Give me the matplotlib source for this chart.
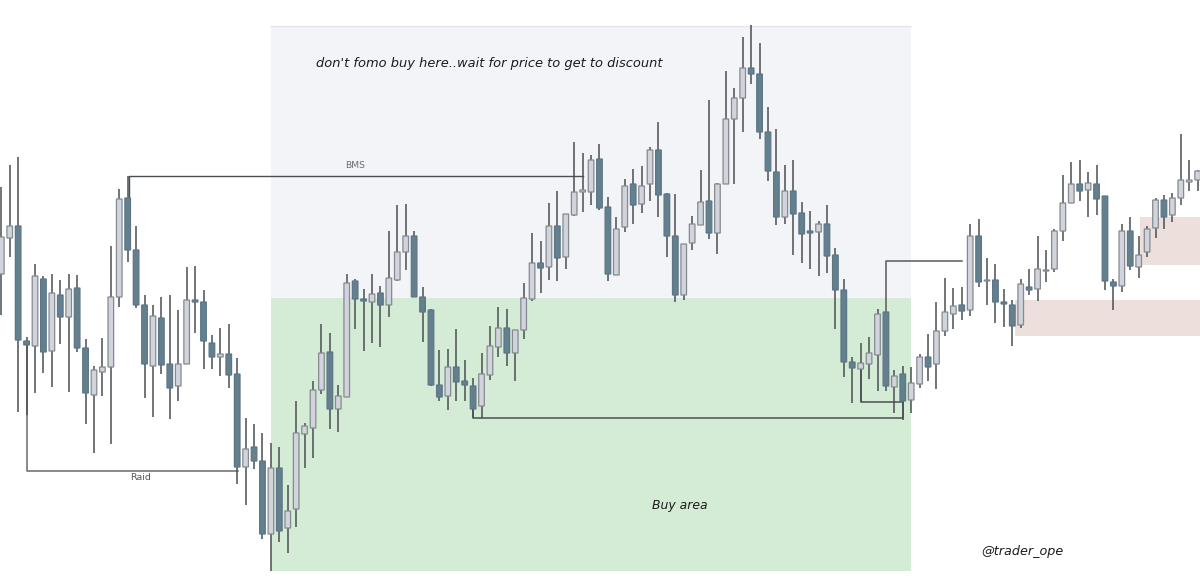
import numpy as np
import matplotlib
matplotlib.use('Agg')
import matplotlib.pyplot as plt

# candle values, price scale runs in image rows
candle_kind = ("l l d d l d l d l d "
               "d l l l l d d d l d "
               "d l l d d d l d d l "
               "d d l d l l l l l d "
               "l l d d l d l l l d "
               "d d d l d d d l l l "
               "d l l l d l d l l l "
               "l d d l l d l l d d "
               "d l l l d l l l l d "
               "d d d l d d d l d d "
               "d d l l l d l d l l "
               "d l l l d l d l d d "
               "d l d l l l l l d l "
               "d d d l d l l l d l "
               "l l l").split()
candle_high = [187, 165, 157, 337, 264, 276, 274, 280, 274, 275, 339, 366, 338, 246, 189, 176, 226, 295, 305, 297,
               295, 310, 267, 266, 290, 335, 328, 324, 358, 418, 424, 433, 443, 447, 485, 401, 423, 381, 324, 333,
               385, 274, 279, 289, 274, 286, 231, 205, 204, 231, 287, 309, 350, 349, 329, 360, 378, 353, 326, 307,
               309, 330, 283, 233, 241, 203, 191, 214, 142, 153, 155, 144, 197, 217, 179, 169, 166, 147, 122, 193,
               194, 244, 216, 170, 100, 183, 71, 88, 37, 25, 43, 107, 129, 165, 160, 202, 211, 221, 205, 248,
               279, 357, 343, 337, 309, 312, 370, 366, 367, 354, 334, 302, 278, 288, 287, 224, 219, 258, 264, 289,
               300, 279, 269, 236, 250, 229, 175, 162, 160, 172, 165, 196, 279, 224, 217, 236, 226, 198, 195, 193,
               134, 160, 170]
body_top = [237, 226, 226, 341, 276, 279, 293, 295, 289, 288, 348, 370, 367, 297, 199, 198, 250, 305, 316, 318,
            364, 364, 300, 300, 302, 343, 354, 354, 374, 449, 447, 461, 468, 468, 511, 433, 426, 390, 353, 352,
            396, 283, 281, 299, 294, 293, 278, 252, 236, 236, 297, 310, 385, 367, 367, 381, 386, 374, 346, 328,
            328, 330, 298, 263, 263, 226, 226, 214, 192, 190, 160, 159, 207, 229, 186, 184, 186, 150, 150, 194,
            236, 244, 224, 202, 201, 184, 119, 98, 68, 68, 74, 132, 172, 191, 191, 213, 231, 224, 224, 255,
            290, 362, 363, 353, 314, 312, 376, 374, 383, 357, 357, 331, 312, 306, 305, 236, 236, 280, 280, 302,
            305, 284, 287, 269, 270, 231, 203, 184, 184, 183, 184, 196, 282, 231, 231, 255, 229, 200, 200, 198,
            180, 180, 171]
body_bottom = [274, 238, 340, 345, 346, 352, 351, 317, 317, 348, 393, 395, 372, 367, 297, 250, 305, 364, 366, 365,
               388, 386, 364, 302, 341, 357, 357, 375, 467, 467, 461, 534, 534, 531, 528, 509, 434, 428, 390, 409,
               409, 397, 299, 301, 302, 305, 305, 280, 252, 297, 312, 385, 397, 396, 382, 385, 409, 406, 375, 347,
               353, 353, 330, 299, 268, 267, 258, 257, 215, 192, 192, 208, 274, 275, 227, 205, 204, 184, 195, 236,
               295, 295, 243, 225, 233, 233, 184, 119, 98, 74, 132, 171, 217, 217, 214, 234, 233, 232, 256, 290,
               362, 368, 369, 364, 355, 386, 387, 401, 400, 384, 367, 364, 331, 314, 311, 310, 282, 281, 302, 304,
               326, 325, 290, 289, 271, 269, 231, 203, 191, 190, 199, 281, 286, 286, 266, 267, 252, 228, 217, 215,
               198, 182, 180]
candle_low = [315, 257, 412, 415, 393, 373, 387, 344, 392, 352, 424, 453, 396, 444, 307, 262, 308, 398, 417, 374,
              419, 401, 364, 333, 369, 369, 376, 388, 484, 505, 469, 539, 571, 542, 553, 527, 468, 458, 394, 429,
              432, 397, 329, 351, 343, 347, 317, 281, 270, 297, 342, 386, 401, 410, 401, 401, 418, 418, 380, 357,
              366, 381, 339, 301, 293, 280, 281, 269, 216, 212, 205, 210, 281, 275, 232, 224, 213, 201, 217, 257,
              302, 300, 250, 225, 239, 254, 184, 184, 132, 84, 139, 181, 225, 224, 255, 263, 269, 276, 273, 329,
              377, 403, 402, 379, 391, 391, 413, 420, 413, 388, 381, 389, 336, 329, 320, 316, 287, 305, 323, 327,
              346, 328, 295, 301, 282, 272, 241, 203, 201, 217, 215, 290, 310, 292, 270, 278, 257, 238, 229, 222,
              205, 191, 191]

zone_x = [271, 911]
premium_y = [26, 298]
discount_y = [298, 571]
supply_left = [1015, 1140]
supply_top = [300, 217]
supply_bottom = [336, 265]

bar_x = 1.3 + 8.425 * np.arange(len(candle_high))
candle_kind = np.array(candle_kind)
candle_high = np.array(candle_high)
candle_low = np.array(candle_low)
body_top = np.array(body_top)
body_bottom = np.array(body_bottom)

fig = plt.figure(figsize=(12, 5.87), dpi=100)
ax = fig.add_axes([0, 0, 1, 1])
ax.set_xlim(0, 1200)
ax.set_ylim(587, 0)
ax.axis('off')

# zones
ax.fill_between(zone_x, premium_y[0], premium_y[1], color='#f3f4f7', lw=0, zorder=1)
ax.fill_between(zone_x, discount_y[0], discount_y[1], color='#d4ebd5', lw=0, zorder=1)
ax.plot(zone_x, [premium_y[0]] * 2, color='#e6e7ea', lw=1, zorder=1)
for left, top, bottom in zip(supply_left, supply_top, supply_bottom):
    ax.fill_between([left, 1200], top, bottom, color='#ecdfdc', lw=0, zorder=1)

# annotation lines
line_col = '#4a4f52'
ax.plot([27, 27, 238], [345, 471, 471], color='#6a6a6a', lw=1.1, zorder=2)
ax.plot([128.5, 128.5, 583], [198, 176, 176], color=line_col, lw=1.0, zorder=2)
ax.plot([473, 473, 903, 903], [409, 418, 418, 401], color=line_col, lw=1.1, zorder=2)
ax.plot([861, 861, 903], [369, 402, 402], color=line_col, lw=1.1, zorder=2)
ax.plot([886, 886, 962], [312, 261, 261], color='#5a5a5a', lw=1.1, zorder=2)

# candles
ax.vlines(bar_x, candle_high, candle_low, color='#4a4f52', lw=1.1, zorder=3)
for k, fc, ec in [('d', '#64808f', '#5c7686'), ('l', '#d1d4dc', '#858a8f')]:
    sel = candle_kind == k
    bars = ax.bar(bar_x[sel], (body_bottom - body_top)[sel], bottom=body_top[sel], width=5.6,
                  color=fc, edgecolor=ec, linewidth=0.9, zorder=4)
    for b in bars:
        b.set_snap(False)

font = 'DejaVu Sans'
ax.text(315.5, 64, "don't fomo buy here..wait for price to get to discount", fontsize=9.35,
        style='italic', family=font, color='#1c1c1c', va='center', ha='left', zorder=5)
ax.text(652.5, 506, 'Buy area', fontsize=8.9, style='italic', family=font, color='#1c1c1c',
        va='center', ha='left', zorder=5)
ax.text(981, 551, '@trader_ope', fontsize=9.2, style='italic', family=font, color='#1c1c1c',
        va='center', ha='left', zorder=5)
ax.text(355, 166, 'BMS', fontsize=6.6, family=font, color='#6a6d70', va='center', ha='center', zorder=5)
ax.text(141, 478, 'Raid', fontsize=6.8, family=font, color='#55585a', va='center', ha='center', zorder=5)

fig.savefig('out.png', dpi=100)
